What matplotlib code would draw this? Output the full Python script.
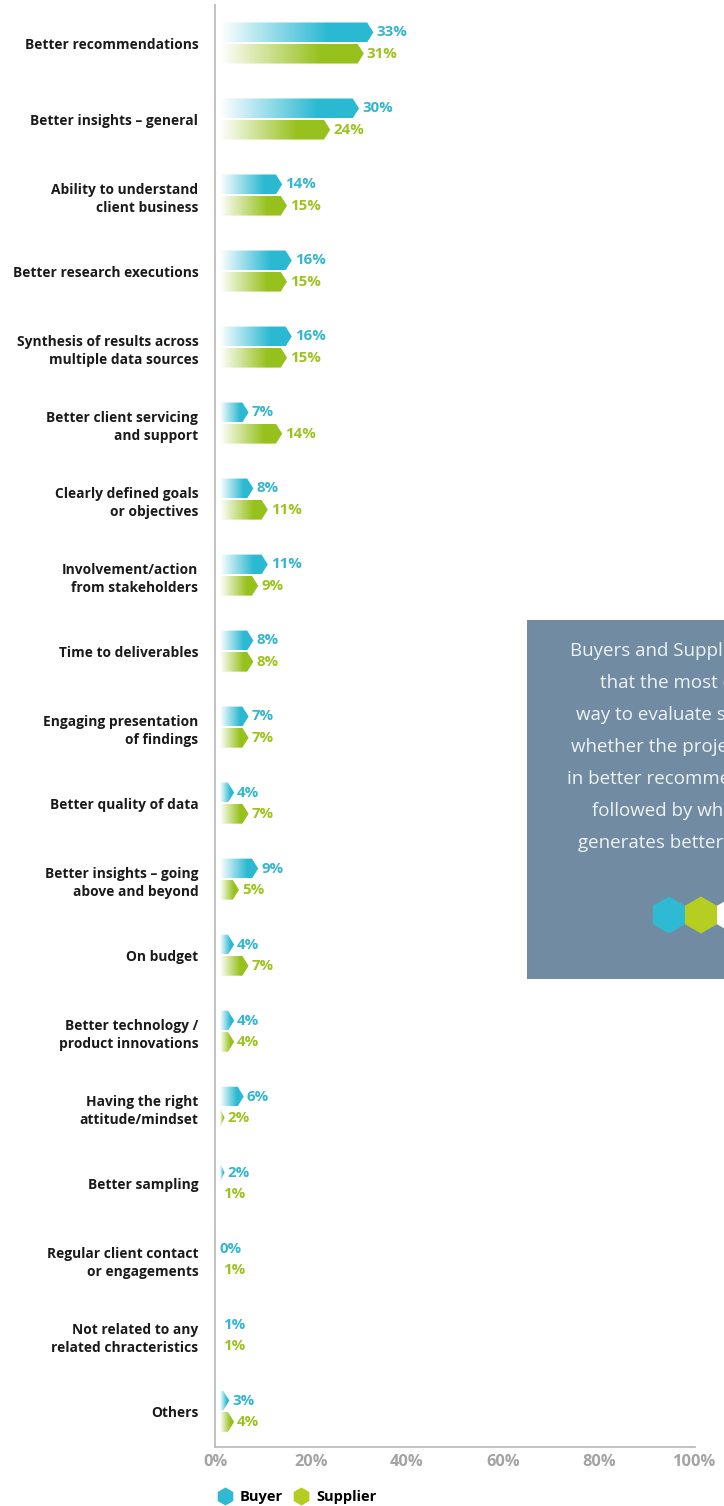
import numpy as np
import matplotlib
matplotlib.use("Agg")
import matplotlib.pyplot as plt
from matplotlib.patches import Polygon, Rectangle, RegularPolygon
from matplotlib.colors import LinearSegmentedColormap
from matplotlib.lines import Line2D

plt.rcParams['font.family'] = ['Open Sans', 'DejaVu Sans']

categories = [
    "Better recommendations",
    "Better insights \u2013 general",
    "Ability to understand\nclient business",
    "Better research executions",
    "Synthesis of results across\nmultiple data sources",
    "Better client servicing\nand support",
    "Clearly defined goals\nor objectives",
    "Involvement/action\nfrom stakeholders",
    "Time to deliverables",
    "Engaging presentation\nof findings",
    "Better quality of data",
    "Better insights \u2013 going\nabove and beyond",
    "On budget",
    "Better technology /\nproduct innovations",
    "Having the right\nattitude/mindset",
    "Better sampling",
    "Regular client contact\nor engagements",
    "Not related to any\nrelated chracteristics",
    "Others",
]
buyer = [33, 30, 14, 16, 16, 7, 8, 11, 8, 7, 4, 9, 4, 4, 6, 2, 0, 1, 3]
supplier = [31, 24, 15, 15, 15, 14, 11, 9, 8, 7, 7, 5, 7, 4, 2, 1, 1, 1, 4]
ticks = [0, 20, 40, 60, 80, 100]
series_names = ["Buyer", "Supplier"]

note_lines = [
    "Buyers and Suppliers agree",
    "that the most critical",
    "way to evaluate success is",
    "whether the project results",
    "in better recommendations,",
    "followed by whether it",
    "generates better insights.",
]

CYAN = "#2bb9d2"
GREEN = "#97c11c"
CYAN_TXT = "#33b6d0"
GREEN_TXT = "#9cc320"

W, H = 724, 1506
fig = plt.figure(figsize=(W / 100, H / 100), dpi=100)
ax = fig.add_axes([215 / W, 1 - 1447 / H, 480 / W, 1442 / H])

bar_h = 0.26
tip = 1.3
x0 = 1.0
ramp = np.clip(np.linspace(0, 1, 256) / 0.7, 0, 1)[None, :]


def draw_bar(y, v, color):
    if v <= x0:
        return
    top, bot = y - bar_h / 2, y + bar_h / 2
    if v - x0 <= tip:
        pts = [(x0, top), (v, y), (x0, bot)]
    else:
        pts = [(x0, top), (v - tip, top), (v, y), (v - tip, bot), (x0, bot)]
    poly = Polygon(pts, closed=True, facecolor="none", edgecolor="none")
    ax.add_patch(poly)
    cmap = LinearSegmentedColormap.from_list("g", ["#ffffff", color])
    im = ax.imshow(ramp, cmap=cmap, vmin=0, vmax=1, aspect="auto",
                   extent=(x0, v, bot, top), interpolation="bilinear")
    im.set_clip_path(poly)


off = 0.14
for i, (b, s) in enumerate(zip(buyer, supplier)):
    draw_bar(i - off, b, CYAN)
    draw_bar(i + off, s, GREEN)
    ax.text(max(b, 0.4) + 0.6, i - off, f"{b}%", color=CYAN_TXT, fontsize=10.8,
            fontweight="bold", va="center", ha="left")
    ax.text(max(s, 0.4) + 0.6, i + off, f"{s}%", color=GREEN_TXT, fontsize=10.8,
            fontweight="bold", va="center", ha="left")

ax.set_xlim(0, 100)
ax.set_ylim(18.47, -0.5)
ax.set_yticks(range(len(categories)))
ax.set_yticklabels(categories, fontsize=9.9, fontweight="bold", color="#1a1a1a",
                   linespacing=1.4)
ax.set_xticks(ticks)
ax.set_xticklabels([f"{t}%" for t in ticks], fontsize=11.8, fontweight="bold",
                   color="#a3a3a3")
ax.tick_params(axis="y", length=0, pad=12)
ax.tick_params(axis="x", length=0, pad=5)
for side in ("top", "right"):
    ax.spines[side].set_visible(False)
for side in ("left", "bottom"):
    ax.spines[side].set_color("#bdbdbd")
    ax.spines[side].set_linewidth(1.3)

# legend under the axis
handles = [
    Line2D([], [], marker="h", linestyle="none", markersize=13,
           markerfacecolor="#31b9d3", markeredgecolor="none"),
    Line2D([], [], marker="h", linestyle="none", markersize=13,
           markerfacecolor="#b5cc21", markeredgecolor="none"),
]
fig.legend(handles, series_names, loc="center left",
           bbox_to_anchor=(216 / W, 1 - 1497 / H), ncol=2, frameon=False,
           handletextpad=0.45, columnspacing=0.6, handlelength=1.2,
           borderpad=0, borderaxespad=0,
           prop={"weight": "bold", "size": 10.5})

# callout box drawn in pixel units
over = fig.add_axes([0, 0, 1, 1], facecolor="none")
over.set_xlim(0, W)
over.set_ylim(H, 0)
over.axis("off")
over.add_patch(Rectangle((527, 620), 400, 359, facecolor="#718ca2",
                         edgecolor="none"))
renderer = fig.canvas.get_renderer()
probe = over.text(0, 0, note_lines[0], fontsize=13.5)
cx = 570 + probe.get_window_extent(renderer).width / 2
probe.remove()
for k, line in enumerate(note_lines):
    over.text(cx, 651 + 32 * k, line, ha="center", va="center",
              fontsize=13.5, color="#eef2f5")
for k, c in enumerate(["#2fbad3", "#b6cd21", "#ffffff"]):
    over.add_patch(RegularPolygon((669 + 32 * k, 915), numVertices=6,
                                  radius=18.5, orientation=0, facecolor=c,
                                  edgecolor="none"))

fig.savefig("out.png", dpi=100)
